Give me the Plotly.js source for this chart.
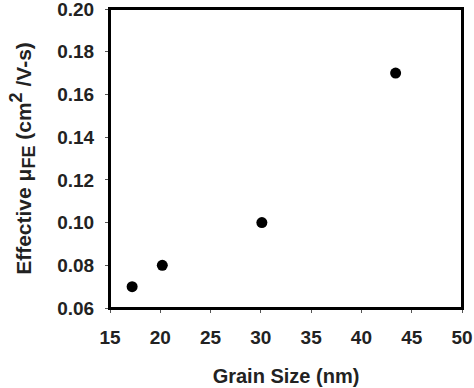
<!DOCTYPE html>
<html>
<head>
<meta charset="utf-8">
<script src="https://cdn.plot.ly/plotly-3.0.1.min.js"></script>
<style>html,body{margin:0;padding:0;background:#fff;}#chart{width:474px;height:388px;}</style>
</head>
<body>
<div id="chart"></div>
<script>
const grainSize = [17.2, 20.2, 30.1, 43.4];
const mobility = [0.07, 0.08, 0.10, 0.17];
const xTicks = [15, 20, 25, 30, 35, 40, 45, 50];
const yTicks = [0.06, 0.08, 0.10, 0.12, 0.14, 0.16, 0.18, 0.20];

const fontFam = 'Liberation Sans, Arial, sans-serif';
const trace = {
  x: grainSize, y: mobility, mode: 'markers', type: 'scatter',
  marker: {color: '#000', size: 11}, cliponaxis: false
};
const axisCommon = {
  showgrid: false, zeroline: false, showline: true, linecolor: '#000', linewidth: 2,
  mirror: true, ticks: 'outside', ticklen: 3, tickwidth: 1, tickcolor: '#555',
  ticklabeloverflow: 'allow',
  tickfont: {family: fontFam, size: 19, color: '#222', weight: 'bold'}
};
const layout = {
  width: 474, height: 388,
  margin: {l: 110, r: 12, t: 9, b: 80},
  paper_bgcolor: '#fff', plot_bgcolor: '#fff',
  showlegend: false,
  xaxis: Object.assign({}, axisCommon, {
    range: [15, 50], tickvals: xTicks, ticktext: xTicks.map(String),
    ticklabelstandoff: 8,
    title: {text: 'Grain Size (nm)', font: {family: fontFam, size: 20, color: '#222', weight: 'bold'}, standoff: 22}
  }),
  yaxis: Object.assign({}, axisCommon, {
    range: [0.06, 0.20], tickvals: yTicks, ticktext: yTicks.map(v => v.toFixed(2)),
    ticklabelstandoff: 7,
    title: {text: 'Effective μ<sub><span style="font-size:18px">FE</span></sub> (cm<sup><span style="font-size:18px">2</span></sup> /V-s)', font: {family: fontFam, size: 21, color: '#222', weight: 'bold'}, standoff: 20}
  }),
  shapes: [{type: 'rect', xref: 'paper', yref: 'paper', x0: 0, x1: 1, y0: 0, y1: 1, line: {color: '#000', width: 2}, layer: 'above'}]
};
Plotly.newPlot('chart', [trace], layout, {displayModeBar: false, staticPlot: true});
</script>
</body>
</html>
